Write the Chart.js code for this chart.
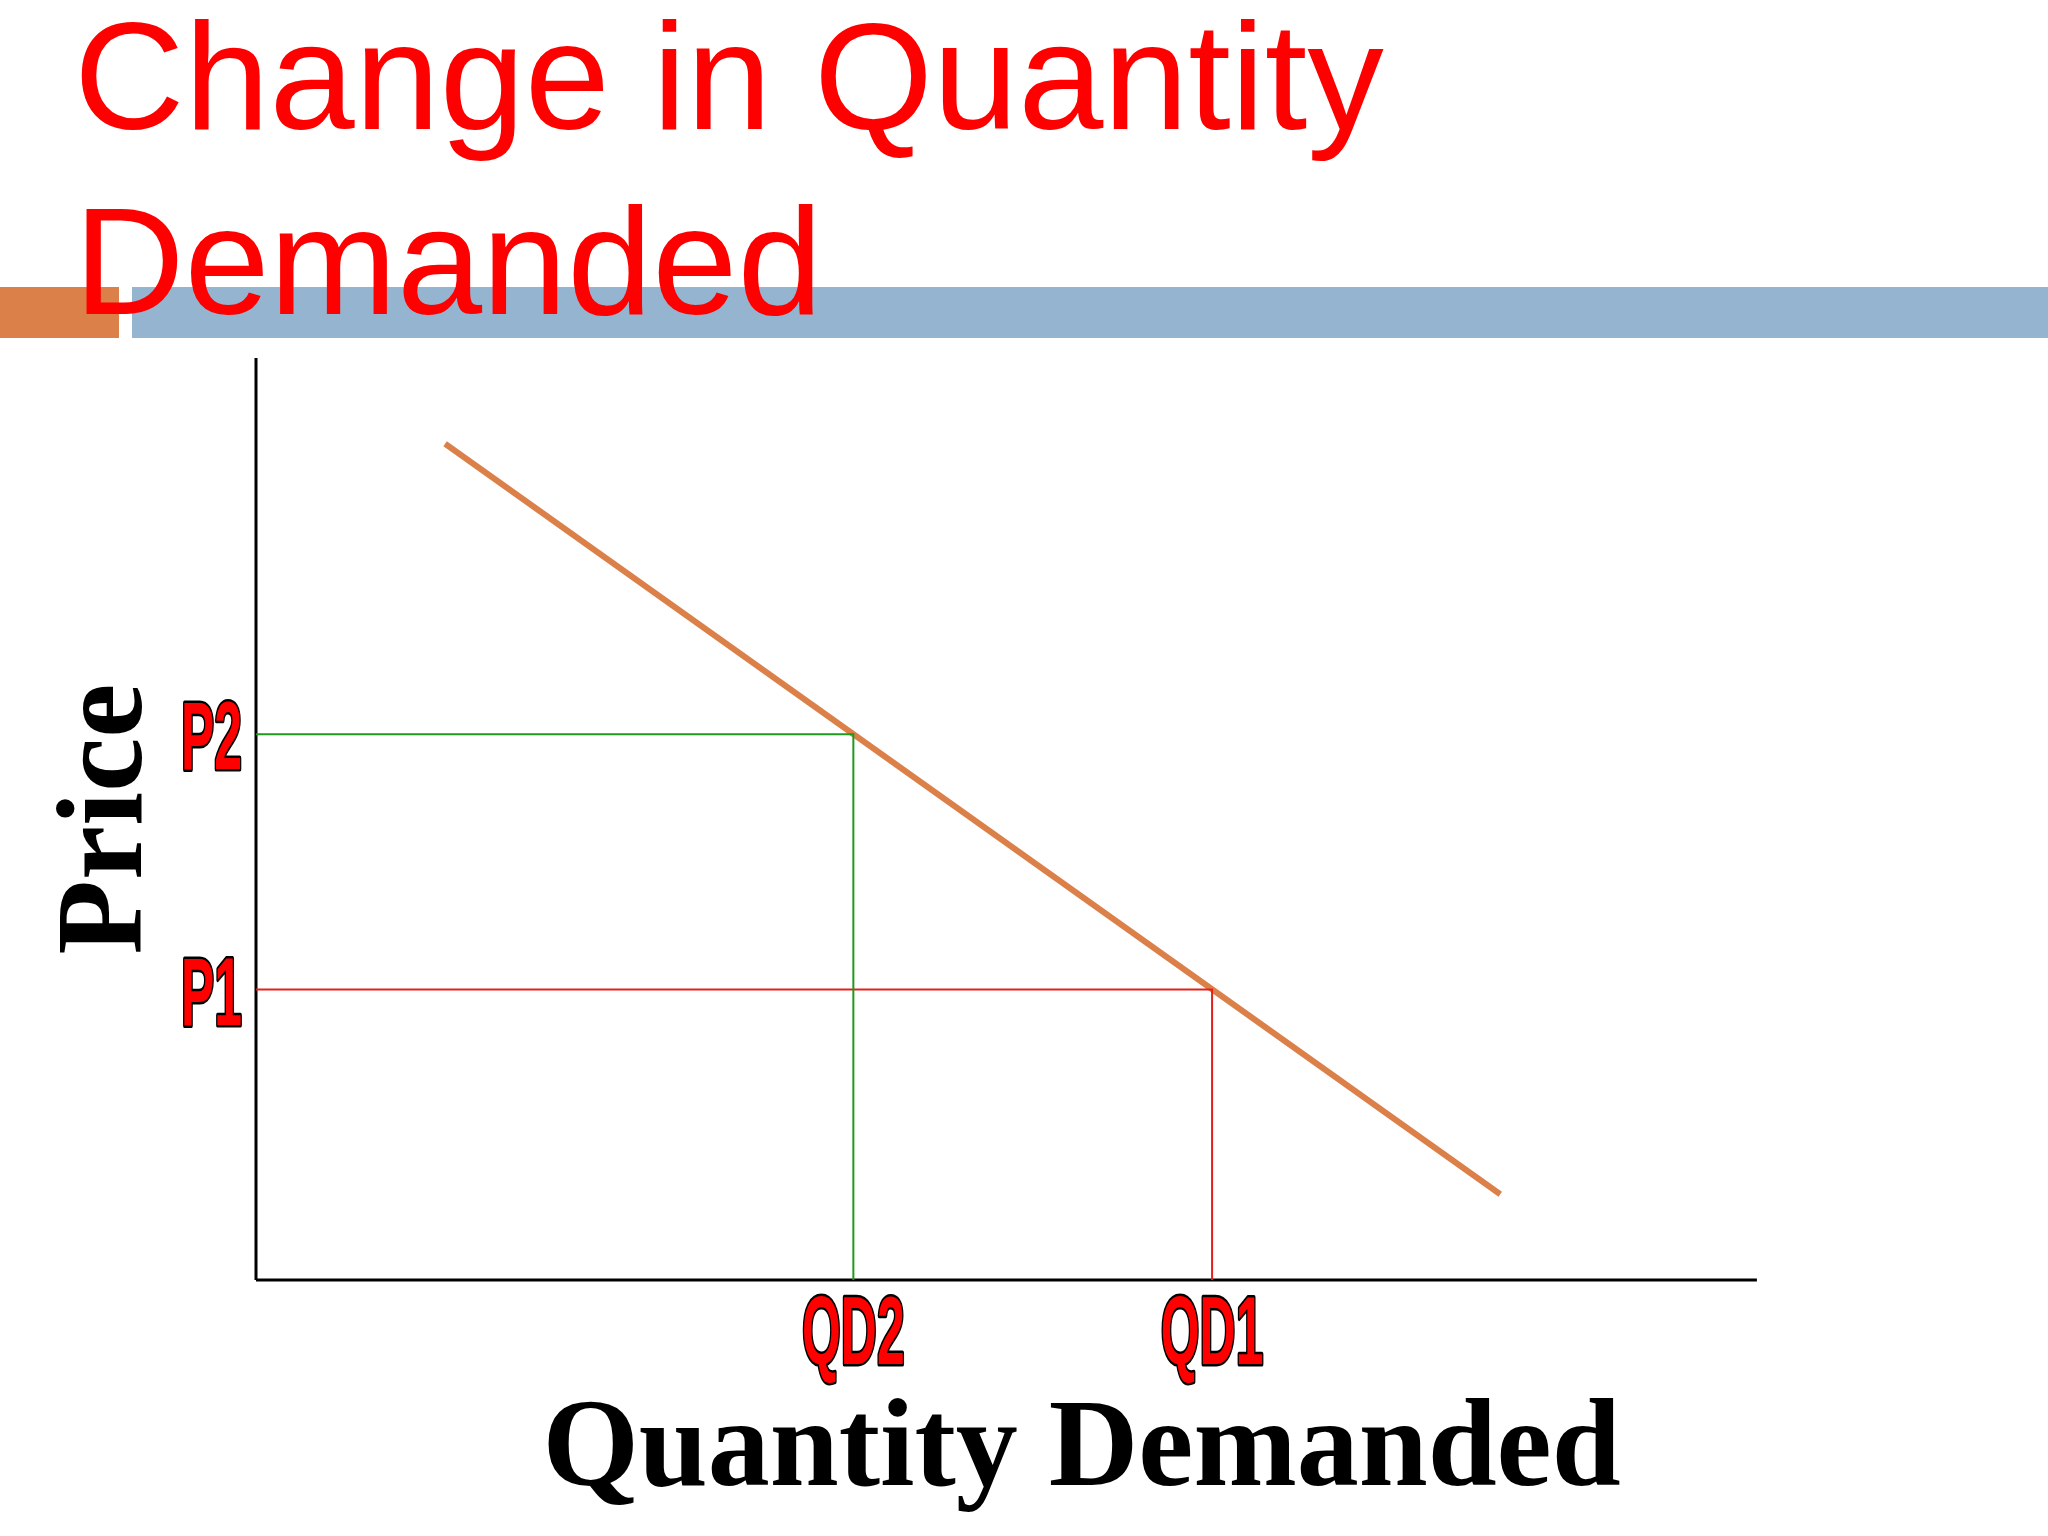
<!DOCTYPE html>
<html>
<head>
<meta charset="utf-8">
<script src="https://cdn.jsdelivr.net/npm/chart.js@4.4.1/dist/chart.umd.min.js"></script>
<style>
    html, body { margin: 0; padding: 0; background: #ffffff; }
    #page { position: relative; width: 2048px; height: 1536px; overflow: hidden; }
    .band { position: absolute; top: 287px; height: 51px; }
    #bandOrange { left: 0; width: 119px; background: #dc8049; }
    #bandBlue { left: 132px; right: 0; background: #95b4d0; }
    #chartBox { position: absolute; left: 0; top: 0; width: 2048px; height: 1536px; }
    #heading {
        position: absolute; left: 74px; top: -17px;
        font-family: "Liberation Sans", Arial, sans-serif;
        font-size: 153px; line-height: 185px; color: #ff0000;
        white-space: nowrap;
    }
</style>
</head>
<body>
<div id="page">
    <div class="band" id="bandOrange"></div>
    <div class="band" id="bandBlue"></div>
    <div id="chartBox"><canvas id="demandChart"></canvas></div>
    <div id="heading">Change in Quantity<br>Demanded</div>
</div>
<script>
// Demand curve end points (quantity, price)
const demandQty = [1.26, 8.29];
const demandPrice = [9.07, 0.93];

// Marked quantities / prices
const qdTicks = [3.98, 6.37];
const qdLabels = ['QD2', 'QD1'];
const priceTicks = [5.92, 3.15];
const priceLabels = ['P2', 'P1'];

// axis extents
const xAxisEnd = 10;
const yAxisEnd = 10;

const demandPoints = demandQty.map((q, i) => ({ x: q, y: demandPrice[i] }));

// guide line: across from the price, down to the quantity
function guide(i) {
    return [
        { x: 0, y: priceTicks[i] },
        { x: qdTicks[i], y: priceTicks[i] },
        { x: qdTicks[i], y: 0 }
    ];
}

// Draws the condensed red/outlined tick labels
const condensedTicks = {
    id: 'condensedTicks',
    afterDraw(chart) {
        const ctx = chart.ctx;
        const squeeze = 0.52;
        ctx.save();
        ctx.font = 'bold 96px "Liberation Sans", Arial, sans-serif';
        ctx.fillStyle = '#ff0000';
        ctx.strokeStyle = '#000000';
        ctx.lineWidth = 5;
        ctx.lineJoin = 'round';

        const xs = chart.scales.x;
        xs.ticks.forEach(t => {
            const px = xs.getPixelForValue(t.value);
            ctx.save();
            ctx.translate(px, chart.chartArea.bottom + 84);
            ctx.scale(squeeze, 1);
            ctx.textAlign = 'center';
            ctx.textBaseline = 'alphabetic';
            ctx.strokeText(t.label, 0, 0);
            ctx.fillText(t.label, 0, 0);
            ctx.restore();
        });

        const ys = chart.scales.y;
        ys.ticks.forEach(t => {
            const py = ys.getPixelForValue(t.value);
            ctx.save();
            ctx.translate(chart.chartArea.left - 14, py + 35);
            ctx.scale(squeeze, 1);
            ctx.textAlign = 'right';
            ctx.textBaseline = 'alphabetic';
            ctx.strokeText(t.label, 0, 0);
            ctx.fillText(t.label, 0, 0);
            ctx.restore();
        });
        ctx.restore();
    }
};

const ctx = document.getElementById('demandChart').getContext('2d');
new Chart(ctx, {
    type: 'scatter',
    data: {
        datasets: [
            {
                label: 'P2 / QD2',
                data: guide(0),
                showLine: true,
                borderColor: '#1e9a1e',
                borderWidth: 2,
                pointRadius: 0,
                clip: false
            },
            {
                label: 'P1 / QD1',
                data: guide(1),
                showLine: true,
                borderColor: '#e3201b',
                borderWidth: 2,
                pointRadius: 0,
                clip: false
            },
            {
                label: 'Demand',
                data: demandPoints,
                showLine: true,
                borderColor: '#dc8049',
                borderWidth: 6,
                pointRadius: 0,
                clip: false
            },
            {
                label: 'x axis',
                data: [{ x: 0, y: 0 }, { x: xAxisEnd, y: 0 }],
                showLine: true,
                borderColor: '#000000',
                borderWidth: 3,
                pointRadius: 0,
                clip: false
            },
            {
                label: 'y axis',
                data: [{ x: 0, y: 0 }, { x: 0, y: yAxisEnd }],
                showLine: true,
                borderColor: '#000000',
                borderWidth: 3,
                pointRadius: 0,
                clip: false
            }
        ]
    },
    options: {
        responsive: true,
        maintainAspectRatio: false,
        animation: false,
        layout: {
            padding: { top: 358, left: 0, right: 141, bottom: 0 }
        },
        plugins: {
            legend: { display: false },
            tooltip: { enabled: false }
        },
        scales: {
            x: {
                type: 'linear',
                min: 0,
                max: 11,
                grid: { display: false, drawTicks: false },
                border: { display: false },
                afterBuildTicks: s => { s.ticks = qdTicks.map(v => ({ value: v })); },
                ticks: {
                    display: false,
                    callback: (v, i) => qdLabels[i]
                },
                title: {
                    display: true,
                    text: 'Quantity Demanded',
                    color: '#000000',
                    font: { family: '"Liberation Serif", "Times New Roman", serif', size: 124, weight: 'bold' },
                    padding: { top: 98.6, bottom: 8.6 }
                }
            },
            y: {
                type: 'linear',
                min: 0,
                max: 10,
                grid: { display: false, drawTicks: false },
                border: { display: false },
                afterBuildTicks: s => { s.ticks = priceTicks.map(v => ({ value: v })); },
                ticks: {
                    display: false,
                    callback: (v, i) => priceLabels[i]
                },
                title: {
                    display: true,
                    text: 'Price',
                    color: '#000000',
                    font: { family: '"Liberation Serif", "Times New Roman", serif', size: 122, weight: 'bold' },
                    padding: { top: 36, bottom: 73.6 }
                }
            }
        }
    },
    plugins: [condensedTicks]
});
</script>
</body>
</html>
